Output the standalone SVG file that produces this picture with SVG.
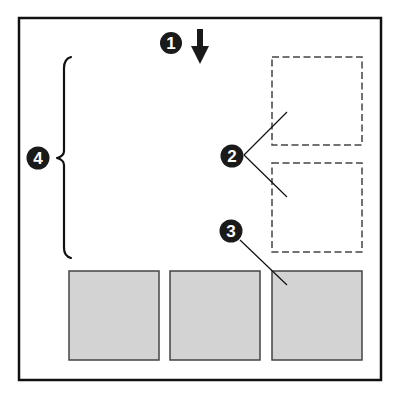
<svg xmlns="http://www.w3.org/2000/svg" width="400" height="400" viewBox="0 0 400 400">
<style>
.frame{fill:#fff;stroke:#111;stroke-width:2.5}
.dash{fill:none;stroke:#444;stroke-width:1.5;stroke-dasharray:7,3.5}
.sheet{fill:#d3d3d3;stroke:#444;stroke-width:1.5}
.lead{fill:none;stroke:#111;stroke-width:1.2}
.brace{fill:none;stroke:#111;stroke-width:2.2;stroke-linecap:round;stroke-linejoin:round}
.badge{fill:#1a1a1a}
.num{fill:#fff;font-family:"Liberation Sans",Arial,sans-serif;font-weight:bold;font-size:17px;text-anchor:middle}
</style>
<rect width="400" height="400" fill="#fff"/>
<rect class="frame" x="19" y="18" width="362" height="362"/>
<g id="slots">
<rect class="dash" x="272" y="57" width="90" height="88"/>
<rect class="dash" x="272" y="163" width="90" height="89"/>
</g>
<g id="sheets">
<rect class="sheet" x="69" y="271" width="90" height="89"/>
<rect class="sheet" x="170" y="271" width="90" height="89"/>
<rect class="sheet" x="272" y="271" width="90" height="89"/>
</g>
<g id="connectors">
<path class="lead" d="M244 155 L287 112 M244 155 L287 197"/>
<path class="lead" d="M240 240 L287 285"/>
<path class="brace" d="M71 57 Q64 59 64 68 L64 151 Q64 156 57 158 Q64 160 64 165 L64 248 Q64 256 71 258"/>
</g>
<g id="c1">
<circle class="badge" cx="171" cy="43" r="11"/>
<text class="num" x="171" y="49">1</text>
<path d="M197 29 H203 V46 H209 L200 64 L191 46 H197 Z" fill="#1a1a1a"/>
</g>
<g id="c2">
<circle class="badge" cx="232" cy="156" r="11.5"/>
<text class="num" x="232" y="162">2</text>
</g>
<g id="c3">
<circle class="badge" cx="231" cy="231" r="11.5"/>
<text class="num" x="231" y="237">3</text>
</g>
<g id="c4">
<circle class="badge" cx="38" cy="158" r="11.5"/>
<text class="num" x="38" y="164">4</text>
</g>
</svg>
